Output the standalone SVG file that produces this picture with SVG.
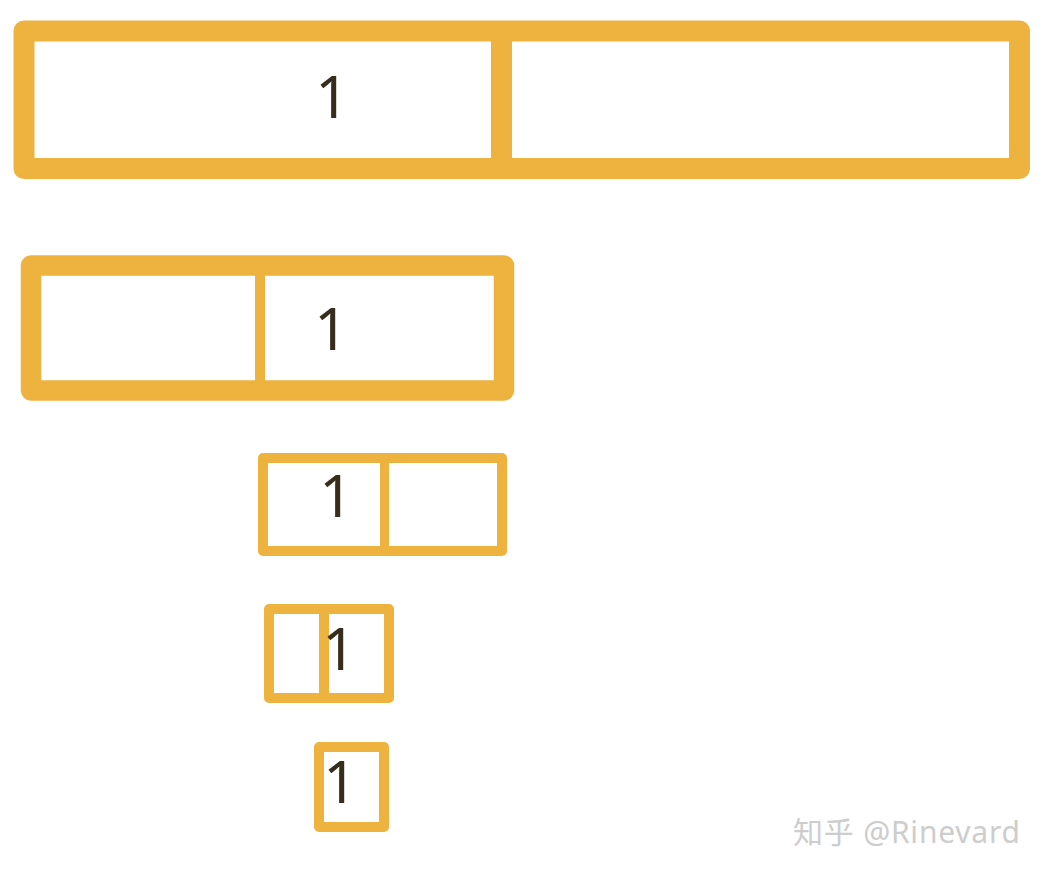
<svg xmlns="http://www.w3.org/2000/svg" width="1049" height="875" viewBox="0 0 1049 875">
<style>
.box{fill:none;stroke:#EDB33E;stroke-linejoin:round}
.div{stroke:#EDB33E}
.num{font-family:"Noto Sans","Open Sans",sans-serif;font-size:59px;fill:#362d1c;text-anchor:middle}
.wm{font-family:"Noto Sans","Noto Sans CJK SC",sans-serif;font-size:30px;fill:#cdcdcd}
</style>
<rect width="1049" height="875" fill="#ffffff"/>
<g id="row1">
<rect class="box" x="24" y="31" width="995.5" height="137.5" stroke-width="21"/>
<line class="div" x1="501.5" y1="31" x2="501.5" y2="168.5" stroke-width="21"/>
<text class="num" x="332" y="118">1</text>
</g>
<g id="row2">
<rect class="box" x="31" y="265.5" width="473" height="125" stroke-width="20.5"/>
<line class="div" x1="260" y1="265.5" x2="260" y2="390.5" stroke-width="10"/>
<text class="num" x="331" y="350">1</text>
</g>
<g id="row3">
<rect class="box" x="263" y="458" width="239" height="93" stroke-width="10"/>
<line class="div" x1="384.5" y1="458" x2="384.5" y2="551" stroke-width="9"/>
<text class="num" x="336" y="517">1</text>
</g>
<g id="row4">
<rect class="box" x="269" y="609" width="120" height="89" stroke-width="10"/>
<line class="div" x1="324" y1="609" x2="324" y2="698" stroke-width="10"/>
<text class="num" x="339" y="670">1</text>
</g>
<g id="row5">
<rect class="box" x="319" y="747" width="65" height="80" stroke-width="10"/>
<text class="num" x="340" y="803">1</text>
</g>
<g id="connectors"></g>
<text class="wm" x="793" y="843" textLength="227">知乎 @Rinevard</text>
</svg>
